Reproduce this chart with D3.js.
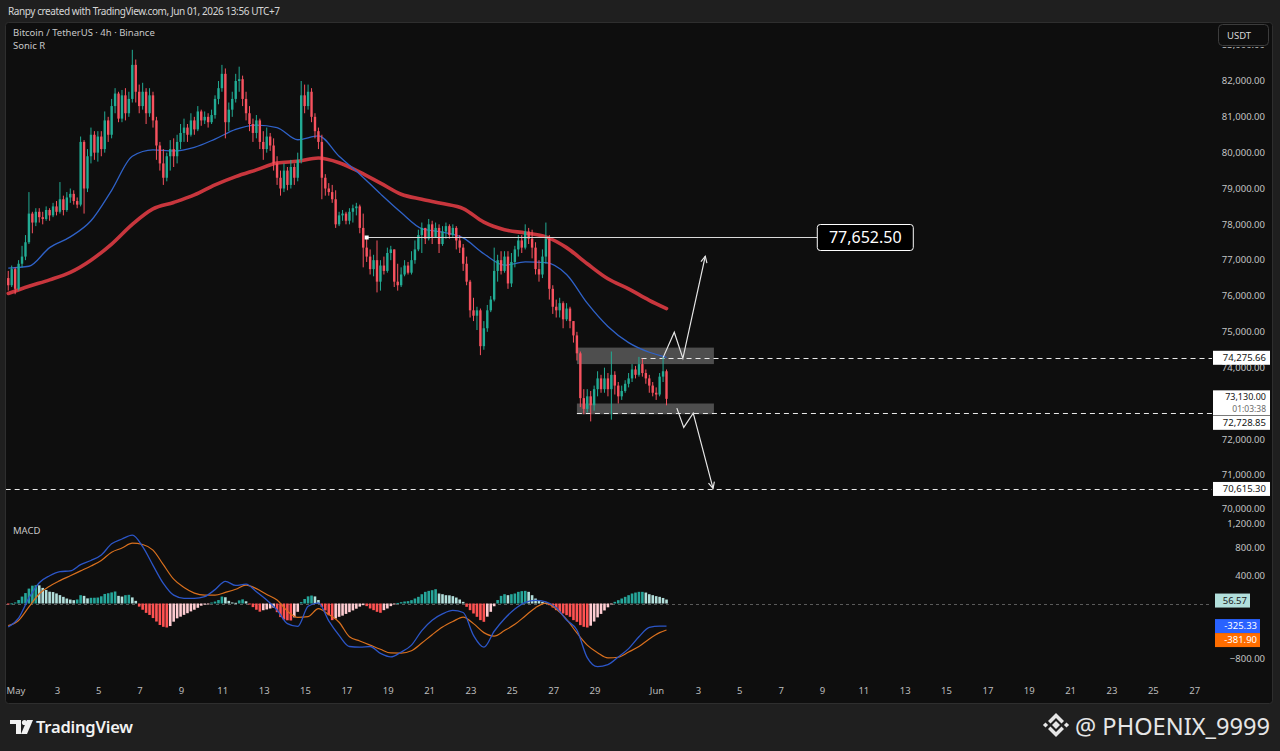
<!DOCTYPE html>
<html>
<head>
<meta charset="UTF-8" />
<title>BTCUSDT 4h - Sonic R / MACD</title>
<style>
  body { margin: 0; background: #1f1f1f; }
  svg { display: block; font-family: "Noto Sans", sans-serif; }
</style>
</head>
<body>
<svg id="chart" width="1280" height="751"></svg>

<script src="https://cdn.jsdelivr.net/npm/d3@7"></script>
<script>
// ---- data (4h bars, UTC+7) ----
const firstBar = "2026-04-30 15:00";
const firstOpen = 76500;

// one row per day (Apr 30 has 3 bars, Jun 1 has 3 bars)
const closes = [
  76300,76750,76200,
  76900,77100,77500,78300,78050,78350,
  78200,78150,78400,78250,78500,78350,
  78700,78400,78750,78850,78650,78550,
  80300,79000,79900,80500,80000,80450,
  80100,80900,80500,81300,81650,80950,
  81600,81100,81500,82450,81700,81300,
  81700,81100,81600,80900,80200,79700,
  79300,79900,80100,79900,80300,80550,
  80700,80500,80900,80650,81150,80900,
  81000,80850,81050,81500,81800,82200,
  80850,81200,81500,82000,82050,81500,
  81100,80800,80550,80900,80300,80100,
  80450,80200,79700,79300,79000,79500,
  79100,79600,79300,79800,81600,81300,
  81700,81000,80600,80300,79300,79000,
  78900,78700,78000,78250,78300,78100,
  78350,78450,78500,77900,77350,77100,
  76750,77000,76400,76850,76700,77200,
  77300,76400,76300,76600,76850,76650,
  77000,77300,77700,77900,77600,78000,
  77650,77900,77450,77800,77950,77700,
  77900,77550,77350,76900,76400,75600,
  75450,75600,74600,75100,75600,75900,
  76700,77000,76700,77100,76350,76950,
  77300,77550,77350,77800,77600,77350,
  76750,76600,77100,77600,76200,75700,
  75600,75800,75350,75650,75300,74900,
  74400,73150,72850,73200,72950,73400,
  73700,73400,73700,73400,73800,73500,
  73200,73350,73550,73700,73950,73800,
  74100,73850,73700,73500,73300,73250,
  73750,73900,73130
];
const highs = [
  76700,76850,76800,
  77000,77400,77700,78900,78350,78450,
  78450,78350,78500,78450,78600,78650,
  79180,78800,78900,79000,78950,78750,
  80450,80350,80100,80700,80600,80600,
  80600,81150,81000,81500,81800,81700,
  81750,81800,81700,82870,82600,81900,
  81950,81800,81800,81700,81000,80300,
  80100,80000,80350,80400,80500,80800,
  80950,80800,81100,81000,81300,81200,
  81150,81100,81200,81600,82000,82450,
  82350,81400,81700,82200,82400,82150,
  81700,81300,80950,81050,80950,80600,
  80700,80550,80400,79900,79500,79700,
  79600,79800,79700,80000,82000,81900,
  81900,81800,81100,80700,80500,79400,
  79150,79100,78950,78350,78400,78350,
  78450,78550,78600,78550,78300,77650,
  77300,77150,77550,77000,77100,77350,
  77400,77300,76900,76800,77000,76950,
  77250,77550,77850,78050,77900,78150,
  78100,78050,78000,77950,78050,78000,
  78000,77950,77700,77450,77100,76450,
  75950,75700,75650,75300,75750,76000,
  77350,77150,77250,77250,77250,77200,
  77400,77700,77700,78000,77900,77850,
  77500,77000,77300,78050,77700,76300,
  75900,75950,75850,75800,75700,75300,
  75000,74450,73400,73400,73350,73500,
  73900,73800,74000,73850,74450,73900,
  73600,73500,73650,73850,74100,74050,
  74300,74250,73950,73800,73600,73450,
  73850,74300,73950
];
const lows = [
  76150,76250,76050,
  76150,76800,77000,77450,77750,77950,
  78050,78000,78100,78100,78200,78250,
  78300,78250,78350,78600,78550,78450,
  78500,78300,78900,79700,79800,79750,
  79900,80000,80300,80400,81100,80850,
  80850,80900,81000,81400,81400,81100,
  81200,80800,81000,80700,79800,79500,
  79100,79200,79500,79600,79700,80100,
  80300,80300,80450,80500,80600,80750,
  80800,80700,80800,80950,81350,81700,
  80400,80600,81000,81400,81700,81300,
  80900,80600,80300,80400,80100,79800,
  80000,80050,79500,79100,78800,78900,
  78950,79000,79100,79200,79700,81100,
  81200,80850,80400,80100,78700,78800,
  78800,78600,77900,77950,78100,78000,
  78000,78050,78250,77750,76800,76950,
  76600,76550,76100,76150,76600,76650,
  77000,76250,76150,76250,76550,76600,
  76600,76900,77250,77200,77450,77550,
  77450,77650,77200,77400,77600,77600,
  77650,77300,77200,76700,76300,75400,
  75300,75050,74350,74500,75000,75550,
  75850,76400,76600,76650,76200,76250,
  76800,77100,77200,77300,77450,77050,
  76600,76400,76500,76900,75900,75500,
  75400,75400,75100,75300,75100,74700,
  74200,72900,72700,72750,72500,72800,
  73200,73300,73300,73200,72550,73250,
  73000,73100,73300,73450,73600,73700,
  73750,73750,73550,73300,73200,73100,
  73200,73600,72950
];

// Sonic R lines, read every 6 bars (plus the last bar)
const sonicFast = [76780,76830,77350,77650,78100,78950,79900,80080,80050,80150,80380,80650,
  80770,80700,80360,80470,79900,79400,78850,78330,77880,77780,77620,77180,76860,76950,
  76930,76600,75800,75150,74700,74430,74290];
const sonicSlow = [76070,76270,76450,76660,77000,77450,78000,78430,78610,78820,79100,79330,
  79520,79710,79760,79850,79720,79460,79150,78840,78700,78580,78440,78060,77850,77760,
  77650,77350,76900,76480,76200,75880,75650];

// MACD lines, read every 3 bars (plus the last bar)
const macdLine = [-339,-210,80,300,400,460,470,560,620,700,860,930,985,820,550,290,120,75,75,
  100,200,320,260,280,170,50,-94,-290,-330,-40,10,-250,-460,-620,-630,-620,-720,-770,-700,
  -600,-390,-240,-150,-100,-130,-460,-630,-400,-220,-80,15,45,25,-60,-238,-382,-780,-910,
  -880,-770,-650,-480,-345,-325,-325];
const signalLine = [-320,-245,-50,140,250,330,400,470,540,620,740,800,870,850,770,560,350,230,
  150,120,120,160,205,265,215,130,50,-110,-200,-190,-75,-160,-270,-480,-540,-600,-660,-713,
  -715,-680,-570,-450,-340,-260,-195,-290,-420,-470,-390,-300,-180,-60,5,-80,-230,-425,-600,
  -710,-785,-775,-700,-620,-510,-420,-382];

// MACD histogram, one value per bar
const histogram = [
  -10,2,15,
  50,100,150,215,257,264,
  262,225,195,170,165,145,
  121,96,72,57,48,58,
  120,110,74,82,83,86,
  104,138,148,160,173,110,
  100,120,125,88,38,-45,
  -90,-135,-165,-210,-260,-310,
  -336,-346,-325,-262,-214,-190,
  -164,-140,-114,-90,-62,-32,
  -16,-2,14,28,50,100,
  90,38,15,10,45,60,
  32,-14,-52,-90,-118,-97,
  -86,-72,-60,-125,-196,-231,
  -242,-245,-200,-120,20,65,
  103,115,102,50,-50,-100,
  -170,-240,-216,-192,-175,-150,
  -125,-100,-75,-45,-24,-38,
  -72,-96,-120,-134,-96,-72,
  -38,-10,8,19,29,34,
  48,72,96,134,168,182,
  192,206,144,134,120,118,
  106,86,58,24,-48,-96,
  -144,-192,-240,-264,-190,-120,
  -40,50,110,134,120,134,
  144,168,178,182,168,120,
  72,48,24,10,-24,-58,
  -96,-120,-144,-168,-192,-240,
  -264,-312,-336,-346,-320,-260,
  -200,-150,-100,-55,-12,24,
  48,72,96,120,144,158,
  168,168,158,134,120,106,
  96,80,57
];

// axis ticks
const priceTicks = [70000,71000,72000,73000,74000,75000,76000,77000,78000,79000,80000,81000,82000,83000];
const macdTicks = [1200,800,400,-800];
const dayTicks = ["2026-05-01","2026-05-03","2026-05-05","2026-05-07","2026-05-09","2026-05-11",
  "2026-05-13","2026-05-15","2026-05-17","2026-05-19","2026-05-21","2026-05-23","2026-05-25",
  "2026-05-27","2026-05-29","2026-06-01","2026-06-03","2026-06-05","2026-06-07","2026-06-09",
  "2026-06-11","2026-06-13","2026-06-15","2026-06-17","2026-06-19","2026-06-21","2026-06-23",
  "2026-06-25","2026-06-27"];
const dayLabels = ["May","3","5","7","9","11","13","15","17","19","21","23","25","27","29",
  "Jun","3","5","7","9","11","13","15","17","19","21","23","25","27"];

// drawings on the chart
const keyLevel = 77652.50;
const keyLevelFrom = "2026-05-17 23:00";
const keyLevelTo = "2026-06-08 18:00";
const dashedLevels = [74275.66, 72728.85, 70615.30];
const dashedFrom = ["2026-05-31 06:00", "2026-05-28 03:00", "2026-04-30 12:00"];
const zoneHigh = [74560, 73000];
const zoneLow = [74100, 72700];
const zoneFrom = "2026-05-28 03:00";
const zoneTo = "2026-06-03 18:00";
const pathUp = [["2026-06-01 07:00",74280],["2026-06-01 20:00",74990],["2026-06-02 06:00",74260],["2026-06-03 08:00",77110]];
const pathDown = [["2026-06-01 23:00",72870],["2026-06-02 07:00",72335],["2026-06-02 18:00",72730],["2026-06-03 17:00",70630]];
const countdown = "01:03:38";

// ---- scales ----
const svg = d3.select("#chart");
const W = 1280, H = 751;
const parse = d3.utcParse("%Y-%m-%d %H:%M");
const parseDay = d3.utcParse("%Y-%m-%d");
const t0 = parse(firstBar);
const barTime = i => d3.utcHour.offset(t0, 4 * i);

const x = d3.scaleUtc()
  .domain([parse("2026-05-01 00:00"), parse("2026-05-29 00:00")])
  .range([16, 595]);
const y = d3.scaleLinear().domain([70000, 82000]).range([511, 81]);
const ym = d3.scaleLinear().domain([-800, 800]).range([659, 548]);

const bars = closes.map((c, i) => ({
  t: barTime(i),
  o: i ? closes[i - 1] : firstOpen,
  h: highs[i], l: lows[i], c: c
}));

const fmt = d3.format(",.2f");
const UP = "#22ab94", DOWN = "#f7525f";

// ---- frame ----
svg.append("rect").attr("width", W).attr("height", H).attr("fill", "#1f1f1f");
svg.append("text").attr("x", 8).attr("y", 15)
  .attr("font-size", 10).attr("fill", "#d6d6d6").attr("textLength", 272)
  .text("Ranpy created with TradingView.com, Jun 01, 2026 13:56 UTC+7");
svg.append("rect").attr("x", 5.5).attr("y", 22.5).attr("width", 1267).attr("height", 681)
  .attr("rx", 3).attr("fill", "#0e0e0e").attr("stroke", "#2e2e2e");

const defs = svg.append("defs");
defs.append("clipPath").attr("id", "clipMain")
  .append("rect").attr("x", 6).attr("y", 23).attr("width", 1206).attr("height", 492);
defs.append("clipPath").attr("id", "clipMacd")
  .append("rect").attr("x", 6).attr("y", 516).attr("width", 1206).attr("height", 164);
defs.append("clipPath").attr("id", "clipMainAxis")
  .append("rect").attr("x", 1212).attr("y", 47).attr("width", 60).attr("height", 468);
defs.append("clipPath").attr("id", "clipMacdAxis")
  .append("rect").attr("x", 1212).attr("y", 516).attr("width", 60).attr("height", 164);

// ---- main pane ----
const main = svg.append("g").attr("clip-path", "url(#clipMain)");

// zones
zoneHigh.forEach((hi, k) => {
  main.append("rect")
    .attr("x", x(parse(zoneFrom))).attr("width", x(parse(zoneTo)) - x(parse(zoneFrom)))
    .attr("y", y(hi)).attr("height", y(zoneLow[k]) - y(hi))
    .attr("fill", "#7a7a7a").attr("opacity", 0.6);
});

// dashed levels
dashedLevels.forEach((v, k) => {
  main.append("line")
    .attr("x1", x(parse(dashedFrom[k]))).attr("x2", 1212)
    .attr("y1", Math.round(y(v)) + 0.5).attr("y2", Math.round(y(v)) + 0.5)
    .attr("stroke", "#e8e8e8").attr("stroke-width", 1).attr("stroke-dasharray", "5,4");
});

// Sonic R lines
const slowIdx = d3.range(0, closes.length, 6).concat([closes.length - 1]);
const sonicLine = d3.line().x((d, k) => x(barTime(slowIdx[k]))).y(d => y(d)).curve(d3.curveMonotoneX);
main.append("path").datum(sonicSlow).attr("d", sonicLine)
  .attr("fill", "none").attr("stroke", "#c8363d").attr("stroke-width", 3.6).attr("stroke-linecap", "round");
main.append("path").datum(sonicFast).attr("d", sonicLine)
  .attr("fill", "none").attr("stroke", "#2f62c8").attr("stroke-width", 1.3);

// candles
const bw = 2.4;
const cg = main.append("g");
cg.selectAll("line.wick").data(bars).join("line")
  .attr("x1", d => x(d.t)).attr("x2", d => x(d.t))
  .attr("y1", d => y(d.h)).attr("y2", d => y(d.l))
  .attr("stroke", d => d.c >= d.o ? UP : DOWN).attr("stroke-width", 1);
cg.selectAll("rect.body").data(bars).join("rect")
  .attr("x", d => x(d.t) - bw / 2).attr("width", bw)
  .attr("y", d => y(Math.max(d.o, d.c)))
  .attr("height", d => Math.max(1, Math.abs(y(d.o) - y(d.c))))
  .attr("fill", d => d.c >= d.o ? UP : DOWN);

// key level line and label
const ky = Math.round(y(keyLevel)) + 0.5;
main.append("line")
  .attr("x1", x(parse(keyLevelFrom))).attr("x2", x(parse(keyLevelTo)))
  .attr("y1", ky).attr("y2", ky).attr("stroke", "#d9d9d9").attr("stroke-width", 1.2);
main.append("rect").attr("x", x(parse(keyLevelFrom)) - 2).attr("y", ky - 2)
  .attr("width", 4).attr("height", 4).attr("fill", "#ffffff");
main.append("rect").attr("x", x(parse(keyLevelTo))).attr("y", ky - 13)
  .attr("width", 96).attr("height", 26).attr("rx", 3)
  .attr("fill", "#000").attr("stroke", "#ffffff").attr("stroke-width", 1);
main.append("text").attr("x", x(parse(keyLevelTo)) + 48).attr("y", ky)
  .attr("dy", "0.36em").attr("text-anchor", "middle")
  .attr("font-size", 16).attr("fill", "#ffffff").text(fmt(keyLevel));

// projected paths with arrow heads
const pathLine = d3.line().x(d => x(parse(d[0]))).y(d => y(d[1]));
[pathUp, pathDown].forEach(p => {
  main.append("path").datum(p).attr("d", pathLine)
    .attr("fill", "none").attr("stroke", "#e6e6e6").attr("stroke-width", 1.2);
  const a = p[p.length - 2], b = p[p.length - 1];
  const x1 = x(parse(a[0])), y1 = y(a[1]), x2 = x(parse(b[0])), y2 = y(b[1]);
  const ang = Math.atan2(y2 - y1, x2 - x1);
  const len = 7, spread = 0.45;
  const head = [
    [x2 - len * Math.cos(ang - spread), y2 - len * Math.sin(ang - spread)],
    [x2, y2],
    [x2 - len * Math.cos(ang + spread), y2 - len * Math.sin(ang + spread)]
  ];
  main.append("path").attr("d", d3.line()(head))
    .attr("fill", "none").attr("stroke", "#e6e6e6").attr("stroke-width", 1.2);
});

// ---- MACD pane ----
const mp = svg.append("g").attr("clip-path", "url(#clipMacd)");
mp.append("line").attr("x1", 6).attr("x2", 1212)
  .attr("y1", Math.round(ym(0)) + 0.5).attr("y2", Math.round(ym(0)) + 0.5)
  .attr("stroke", "#5a5a5a").attr("stroke-dasharray", "3,3");

const histColor = (v, i) => {
  const prev = i ? histogram[i - 1] : v;
  if (v >= 0) return v >= prev ? "#26a69a" : "#b2dfdb";
  return v <= prev ? "#ff5252" : "#ffcdd2";
};
mp.selectAll("rect.hist").data(histogram).join("rect")
  .attr("x", (v, i) => x(barTime(i)) - 1.3).attr("width", 2.6)
  .attr("y", v => ym(Math.max(0, v)))
  .attr("height", v => Math.max(1, Math.abs(ym(v) - ym(0))))
  .attr("fill", histColor);

const macdIdx = d3.range(0, closes.length, 3).concat([closes.length - 1]);
const macdPath = d3.line().x((d, k) => x(barTime(macdIdx[k]))).y(d => ym(d)).curve(d3.curveMonotoneX);
mp.append("path").datum(signalLine).attr("d", macdPath)
  .attr("fill", "none").attr("stroke", "#d9701e").attr("stroke-width", 1.2);
mp.append("path").datum(macdLine).attr("d", macdPath)
  .attr("fill", "none").attr("stroke", "#2c56c8").attr("stroke-width", 1.3);

// ---- legends ----
svg.append("text").attr("x", 13).attr("y", 36).attr("font-size", 9.5).attr("fill", "#c8c8c8")
  .text("Bitcoin / TetherUS · 4h · Binance");
svg.append("text").attr("x", 13).attr("y", 49).attr("font-size", 9.5).attr("fill", "#c8c8c8")
  .text("Sonic R");
svg.append("text").attr("x", 13).attr("y", 534).attr("font-size", 9.5).attr("fill", "#c8c8c8")
  .text("MACD");

// ---- price axis ----
const lastClose = closes[closes.length - 1];
const lastY = y(lastClose);
// the current-price box hides the tick label that falls behind it
const visibleTicks = priceTicks.filter(d => Math.abs(y(d) - (lastY + 4)) > 13);
const axMain = svg.append("g").attr("clip-path", "url(#clipMainAxis)");
axMain.selectAll("text").data(visibleTicks).join("text")
  .attr("x", 1265).attr("y", d => y(d) - (d === 70000 ? 2 : 0)).attr("dy", "0.35em").attr("text-anchor", "end")
  .attr("font-size", 9.5).attr("fill", "#c4c4c4").text(d => fmt(d));

// USDT box
svg.append("rect").attr("x", 1218.5).attr("y", 24.5).attr("width", 50).attr("height", 21)
  .attr("rx", 4).attr("fill", "#0e0e0e").attr("stroke", "#3c3c3c");
svg.append("text").attr("x", 1227).attr("y", 38.5).attr("font-size", 9.5).attr("fill", "#d8d8d8")
  .text("USDT");

// price labels on axis
const axisLabel = (cy, h, lines) => {
  svg.append("rect").attr("x", 1213).attr("y", cy - h / 2).attr("width", 57).attr("height", h)
    .attr("fill", "#ffffff");
  lines.forEach(l => {
    svg.append("text").attr("x", 1266).attr("y", l[0]).attr("dy", "0.35em")
      .attr("text-anchor", "end").attr("font-size", l[3] || 9.5).attr("fill", l[2]).text(l[1]);
  });
};
axisLabel(y(dashedLevels[0]), 14, [[y(dashedLevels[0]), fmt(dashedLevels[0]), "#131313"]]);
axisLabel(lastY + 4, 25, [[lastY - 2, fmt(lastClose), "#131313", 9],
  [lastY + 10, countdown, "#6a6a6a", 8.5]]);
axisLabel(lastY + 24, 14, [[lastY + 24, fmt(dashedLevels[1]), "#131313"]]);
axisLabel(y(dashedLevels[2]), 14, [[y(dashedLevels[2]), fmt(dashedLevels[2]), "#131313"]]);

// MACD axis
const axMacd = svg.append("g").attr("clip-path", "url(#clipMacdAxis)");
axMacd.selectAll("text").data(macdTicks).join("text")
  .attr("x", 1265).attr("y", d => ym(d) + (d === 1200 ? 3 : 0)).attr("dy", "0.35em").attr("text-anchor", "end")
  .attr("font-size", 9.5).attr("fill", "#c4c4c4").text(d => fmt(d));

const histLast = histogram[histogram.length - 1];
const macdLabel = (cy, w, fill, txtFill, txt) => {
  svg.append("rect").attr("x", 1215).attr("y", cy - 7).attr("width", w).attr("height", 14).attr("fill", fill);
  svg.append("text").attr("x", 1215 + w - 3).attr("y", cy).attr("dy", "0.35em").attr("text-anchor", "end")
    .attr("font-size", 9.5).attr("fill", txtFill).text(txt);
};
macdLabel(ym(histLast) + 1, 35, "#b2dfdb", "#1a1a1a", "56.57");
macdLabel(ym(-325.33), 45, "#2962ff", "#ffffff", "-325.33");
macdLabel(ym(-325.33) + 14, 45, "#ff6d00", "#ffffff", "-381.90");

// ---- time axis ----
svg.selectAll("text.day").data(dayTicks).join("text")
  .attr("x", d => x(parseDay(d))).attr("y", 694).attr("text-anchor", "middle")
  .attr("font-size", 9.5).attr("fill", "#bdbdbd")
  .text((d, i) => dayLabels[i]);

// ---- footer ----
const logo = svg.append("g").attr("fill", "#f2f2f2");
logo.append("path").attr("d", "M10,720 H21 V734 H16 V724 H10 Z");
logo.append("circle").attr("cx", 24.5).attr("cy", 722.5).attr("r", 2.6);
logo.append("path").attr("d", "M27,720 H33 L27,734 H21 Z");
svg.append("text").attr("x", 36).attr("y", 733).attr("font-size", 16.5).attr("font-weight", 600)
  .attr("fill", "#f2f2f2").attr("textLength", 97).text("TradingView");

const bn = svg.append("g").attr("fill", "#e6e6e6");
const diamond = (cx, cy, r) => `M${cx},${cy - r} L${cx + r},${cy} L${cx},${cy + r} L${cx - r},${cy} Z`;
bn.append("path").attr("d", diamond(1056, 725, 4));
bn.append("path").attr("d", diamond(1045.5, 725, 2.6));
bn.append("path").attr("d", diamond(1066.5, 725, 2.6));
bn.append("path").attr("d", "M1056,713 L1064,721 L1061.5,723.5 L1056,718 L1050.5,723.5 L1048,721 Z");
bn.append("path").attr("d", "M1056,737 L1064,729 L1061.5,726.5 L1056,732 L1050.5,726.5 L1048,729 Z");
svg.append("text").attr("x", 1075).attr("y", 735).attr("font-size", 24).attr("fill", "#e6e6e6")
  .attr("textLength", 195).attr("lengthAdjust", "spacingAndGlyphs").text("@ PHOENIX_9999");
</script>
</body>
</html>
